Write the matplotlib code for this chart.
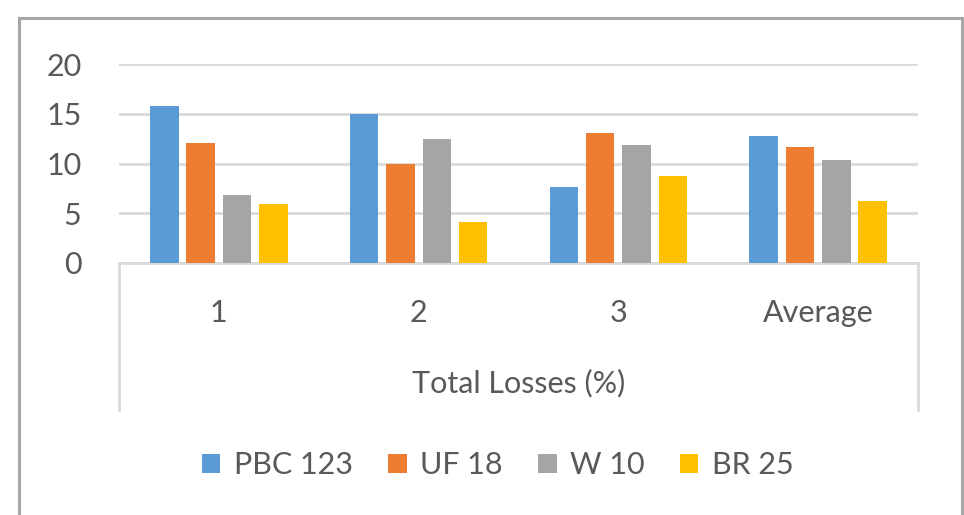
import numpy as np
import matplotlib
matplotlib.use('Agg')
import matplotlib.pyplot as plt
from matplotlib.lines import Line2D

# values
categories = ['1', '2', '3', 'Average']
group_label = 'Total Losses (%)'
series_names = ['PBC 123', 'UF 18', 'W 10', 'BR 25']
pbc_123 = [15.8, 15.0, 7.6, 12.8]
uf_18 = [12.1, 10.0, 13.1, 11.7]
w_10 = [6.8, 12.5, 11.9, 10.4]
br_25 = [5.9, 4.1, 8.7, 6.2]
y_ticks = [0, 5, 10, 15, 20]

colors = ['#5B9BD5', '#ED7D31', '#A5A5A5', '#FFC000']
text_color = '#595959'
grid_color = '#D9D9D9'

plt.rcParams['font.family'] = ['Lato', 'DejaVu Sans']

W, H = 964, 515
fig = plt.figure(figsize=(W / 100, H / 100), dpi=100)
ax = fig.add_axes([119 / W, 1 - 263 / H, (918 - 119) / W, (263 - 64) / H])

x = np.arange(len(categories))
step = 0.182
width = 0.143
all_series = [pbc_123, uf_18, w_10, br_25]
for i, (vals, name, c) in enumerate(zip(all_series, series_names, colors)):
    ax.bar(x + (i - 1.5) * step, vals, width, color=c, label=name, zorder=3)

ax.set_xlim(-0.5, len(categories) - 0.5)
ax.set_ylim(0, 20)
ax.set_yticks(y_ticks)
ax.yaxis.grid(True, color=grid_color, lw=2, zorder=0)
ax.set_axisbelow(True)
ax.tick_params(axis='y', length=0, pad=27, labelsize=22, labelcolor=text_color)
ax.set_xticks([])
for s in ['top', 'right', 'left']:
    ax.spines[s].set_visible(False)
ax.spines['bottom'].set_color(grid_color)
ax.spines['bottom'].set_linewidth(2)

# multi-level category axis
trans = ax.get_xaxis_transform()
for xi, lab in zip(x, categories):
    ax.text(xi, -0.251, lab, transform=trans, ha='center', va='center',
            fontsize=22, color=text_color)
ax.text(np.mean(x), -0.603, group_label, transform=trans, ha='center', va='center',
        fontsize=22, color=text_color)
for xe in [-0.5, len(categories) - 0.5]:
    ax.plot([xe, xe], [0, -0.739], transform=trans, color=grid_color, lw=2,
            clip_on=False)

# legend
fig.legend(loc='center', bbox_to_anchor=(498 / W, 1 - 465 / H), ncol=4,
           frameon=False, fontsize=22, labelcolor=text_color,
           handlelength=0.6, handleheight=0.6, handletextpad=0.45,
           columnspacing=1.15)

# chart border (bottom edge is cut off in the reference)
bc = '#A6A6A6'
fig.add_artist(Line2D([19 / W, 19 / W], [0, 1 - 18 / H], color=bc, lw=2.2))
fig.add_artist(Line2D([19 / W, 962 / W], [1 - 18 / H, 1 - 18 / H], color=bc, lw=2.2))
fig.add_artist(Line2D([962 / W, 962 / W], [0, 1 - 18 / H], color=bc, lw=2.2))

fig.savefig('out.png', dpi=100)
